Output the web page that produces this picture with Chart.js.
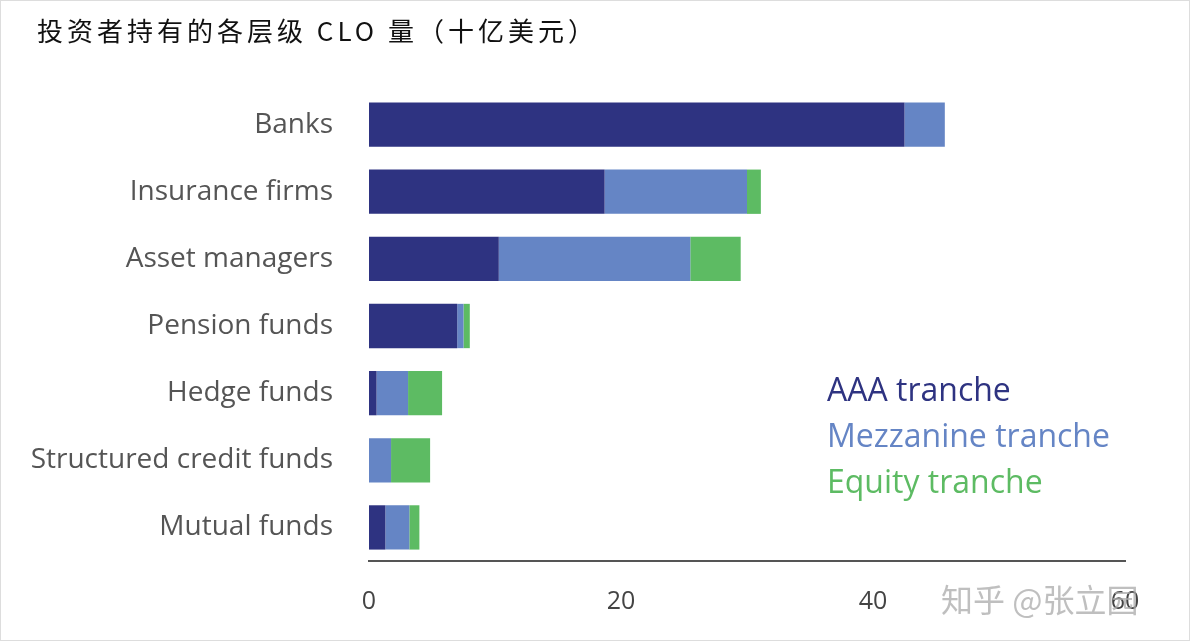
<!DOCTYPE html>
<html><head><meta charset="utf-8">
<script src="https://cdn.jsdelivr.net/npm/chart.js@4"></script>
<style>
body{margin:0;background:#fff;font-family:"Noto Sans CJK SC","Noto Sans",sans-serif;}
#wrap{position:relative;width:1190px;height:641px;overflow:hidden;border:1px solid #ddd;box-sizing:border-box}
#title{position:absolute;left:36px;top:10px;font-size:26px;letter-spacing:4px;color:#111}
.lg{position:absolute;left:826px;font-size:32px;font-family:"Open Sans",sans-serif;line-height:44px}
#wm{position:absolute;left:940px;top:574px;font-size:32px;color:rgba(170,170,170,0.75)}
canvas{position:absolute;left:0;top:0}
</style></head><body>
<div id="wrap">
<canvas id="c" width="1190" height="641"></canvas>
<div id="title">投资者持有的各层级 CLO 量（十亿美元）</div>
<div class="lg" style="top:366px;color:#2e3381">AAA tranche</div>
<div class="lg" style="top:412px;color:#6585c5">Mezzanine tranche</div>
<div class="lg" style="top:458px;color:#5dbb63">Equity tranche</div>
<div id="wm">知乎 @张立园</div>
</div>
<script>
const categories=["Banks","Insurance firms","Asset managers","Pension funds","Hedge funds","Structured credit funds","Mutual funds"];
const aaa=[42.5,18.7,10.3,7.0,0.6,0,1.3];
const mezz=[3.2,11.3,15.2,0.5,2.5,1.75,1.9];
const equity=[0,1.1,4.0,0.5,2.7,3.1,0.8];
const xTicks=[0,20,40,60];
new Chart(document.getElementById('c'),{
type:'bar',
data:{labels:categories,datasets:[
{label:'AAA tranche',data:aaa,backgroundColor:'#2e3381'},
{label:'Mezzanine tranche',data:mezz,backgroundColor:'#6585c5'},
{label:'Equity tranche',data:equity,backgroundColor:'#5dbb63'}]},
options:{indexAxis:'y',responsive:false,animation:false,
layout:{padding:{top:90,right:66,left:0,bottom:0}},
plugins:{legend:{display:false},tooltip:{enabled:false}},
datasets:{bar:{barPercentage:0.66,categoryPercentage:1}},
scales:{
y:{stacked:true,grid:{display:false},border:{display:false},
 ticks:{padding:28,color:'#555',font:{size:28,family:'Open Sans'}},
 afterFit:s=>{s.width=368;}},
x:{stacked:true,min:0,max:60,grid:{display:false},border:{display:true,color:'#555',width:2},
 afterBuildTicks:s=>{s.ticks=xTicks.map(v=>({value:v}));},
 ticks:{color:'#444',padding:18,font:{size:25,family:'Open Sans'}},
 afterFit:s=>{s.height=81;}}
}}});
</script>
</body></html>
